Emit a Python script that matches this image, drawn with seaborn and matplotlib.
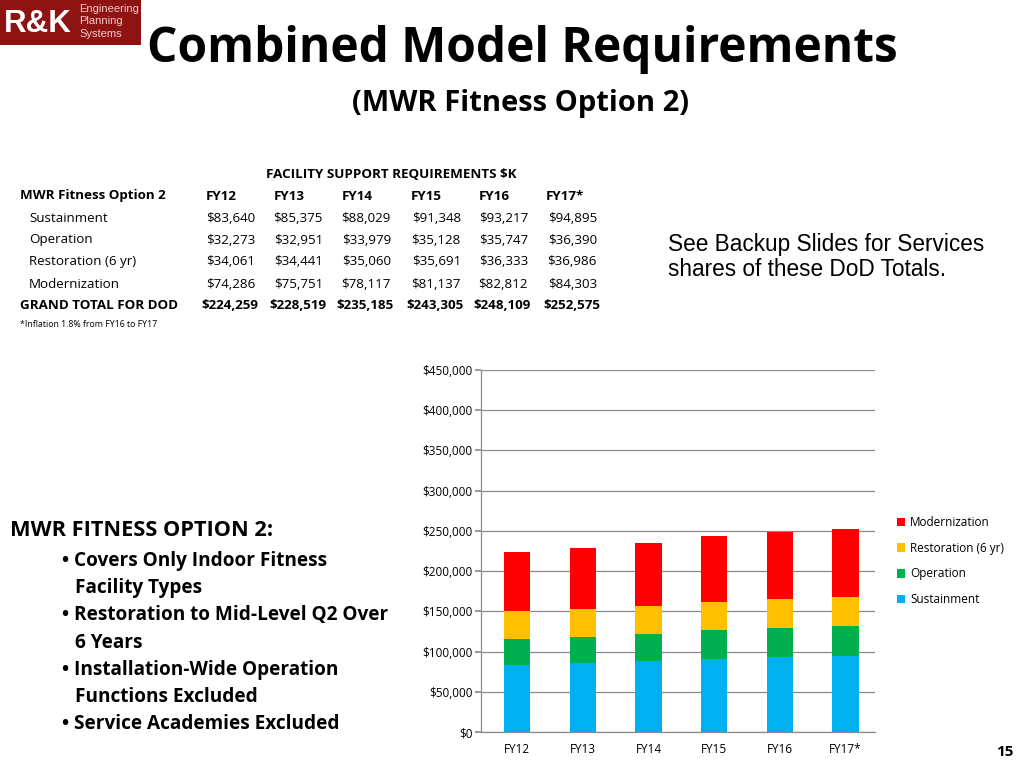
import matplotlib
matplotlib.use("Agg")
import matplotlib.pyplot as plt
import seaborn as sns
import pandas as pd
import numpy as np
from matplotlib.patches import Rectangle
from matplotlib.ticker import FuncFormatter

years = ["FY12", "FY13", "FY14", "FY15", "FY16", "FY17*"]
sustainment = [83640, 85375, 88029, 91348, 93217, 94895]
operation = [32273, 32951, 33979, 35128, 35747, 36390]
restoration = [34061, 34441, 35060, 35691, 36333, 36986]
modernization = [74286, 75751, 78117, 81137, 82812, 84303]
grand_total = [224259, 228519, 235185, 243305, 248109, 252575]
series_names = ["Sustainment", "Operation", "Restoration (6 yr)", "Modernization"]
series_colors = ["#00B0F0", "#00B050", "#FFC000", "#FF0000"]

sns.set_theme(style="white")
plt.rcParams['font.family'] = ['Open Sans', 'DejaVu Sans']
plt.rcParams['text.color'] = 'black'

fig = plt.figure(figsize=(10.24, 7.68), dpi=100)

# Logo
fig.patches.append(Rectangle((0, 1 - 45/768), 141/1024, 45/768, transform=fig.transFigure,
                             facecolor="#8E1414", edgecolor="none"))
fig.text(4/1024, 1 - 24/768, "R&K", color="white", fontsize=22.5, fontweight="bold",
         family="Liberation Sans", va="center", ha="left")
for i, w in enumerate(["Engineering", "Planning", "Systems"]):
    fig.text(79/1024, 1 - (9 + i*12.5)/768, w, color="#F3C9C9", fontsize=8,
             family="Liberation Sans", va="center", ha="left")

# Title
fig.text(522/1024, 1 - 50/768, "Combined Model Requirements", fontsize=34.5, fontweight="bold",
         ha="center", va="center", family="Open Sans", color="black")
fig.text(521/1024, 1 - 104/768, "(MWR Fitness Option 2)", fontsize=21, fontweight="bold",
         ha="center", va="center", family="Open Sans", color="black")

# Table
tfs = 9.6
fig.text(391/1024, 1 - 174/768, "FACILITY SUPPORT REQUIREMENTS $K", fontsize=tfs, fontweight="bold",
         ha="center", va="center")
col_right = [255, 323, 391, 461, 528, 597]
col_center = [221, 289, 357, 426, 494, 565]
fig.text(20/1024, 1 - 196/768, "MWR Fitness Option 2", fontsize=tfs, fontweight="bold", ha="left", va="center")
for x, y in zip(col_center, years):
    fig.text(x/1024, 1 - 196/768, y, fontsize=tfs, fontweight="bold", ha="center", va="center")
rows = [sustainment, operation, restoration, modernization]
for r, (name, vals) in enumerate(zip(series_names, rows)):
    yy = 1 - (218 + r*22)/768
    fig.text(29/1024, yy, name, fontsize=tfs, ha="left", va="center")
    for x, v in zip(col_right, vals):
        fig.text(x/1024, yy, f"${v:,}", fontsize=tfs, ha="right", va="center")
yy = 1 - 305/768
fig.text(20/1024, yy, "GRAND TOTAL FOR DOD", fontsize=tfs, fontweight="bold", ha="left", va="center")
for x, v in zip(col_right, grand_total):
    fig.text((x+3)/1024, yy, f"${v:,}", fontsize=tfs, fontweight="bold", ha="right", va="center")
fig.text(20/1024, 1 - 325/768, "*Inflation 1.8% from FY16 to FY17", fontsize=6.3, ha="left", va="center")

# Right note
fig.text(668/1024, 1 - 257/768, "See Backup Slides for Services\nshares of these DoD Totals.",
         fontsize=16.3, family="Liberation Sans", ha="left", va="center", linespacing=1.12)

# Left bullets
fig.text(10/1024, 1 - 531/768, "MWR FITNESS OPTION 2:", fontsize=15.7, fontweight="bold", ha="left", va="center")
bullets = [("• Covers Only Indoor Fitness", True), ("Facility Types", False),
           ("• Restoration to Mid-Level Q2 Over", True), ("6 Years", False),
           ("• Installation-Wide Operation", True), ("Functions Excluded", False),
           ("• Service Academies Excluded", True)]
for i, (txt, isb) in enumerate(bullets):
    x = 62 if isb else 75
    fig.text(x/1024, 1 - (561 + i*27.2)/768, txt, fontsize=13.7, fontweight="bold", ha="left", va="center")

fig.text(1005/1024, 1 - 752/768, "15", fontsize=11, fontweight="bold", ha="center", va="center")

# Chart
ax = fig.add_axes([481/1024, 1 - 732/768, 394/1024, 362/768])
df = pd.DataFrame({"Year": years, "Sustainment": sustainment, "Operation": operation,
                   "Restoration (6 yr)": restoration, "Modernization": modernization})
cum = df[series_names].cumsum(axis=1)
for name, color in reversed(list(zip(series_names, series_colors))):
    sns.barplot(x=df["Year"], y=cum[name], color=color, width=0.4, ax=ax,
                saturation=1, label=name, edgecolor="none")

ax.set_ylim(0, 450000)
ax.set_yticks(np.arange(0, 450001, 50000))
ax.yaxis.set_major_formatter(FuncFormatter(lambda v, p: f"${int(v):,}"))
ax.grid(axis="y", color="#8C8C8C", linewidth=0.9)
ax.set_axisbelow(True)
ax.set_xlabel("")
ax.set_ylabel("")
for s in ["top", "right"]:
    ax.spines[s].set_visible(False)
for s in ["left", "bottom"]:
    ax.spines[s].set_color("#8C8C8C")
    ax.spines[s].set_linewidth(0.9)
ax.tick_params(axis="y", left=True, length=4, color="#8C8C8C", labelsize=8.5, pad=2, labelcolor="black")
ax.tick_params(axis="x", bottom=False, labelsize=8.5, pad=2, labelcolor="black")
ax.set_xlim(-0.55, 5.45)

handles, labels = ax.get_legend_handles_labels()
leg = ax.legend(handles, labels, loc="upper left", bbox_to_anchor=(897/1024, 1 - 516/768),
                bbox_transform=fig.transFigure, frameon=False, fontsize=8.5,
                handlelength=0.7, handleheight=0.7, handletextpad=0.4, labelspacing=1.08,
                borderaxespad=0, borderpad=0)

fig.savefig("out.png", dpi=100)
